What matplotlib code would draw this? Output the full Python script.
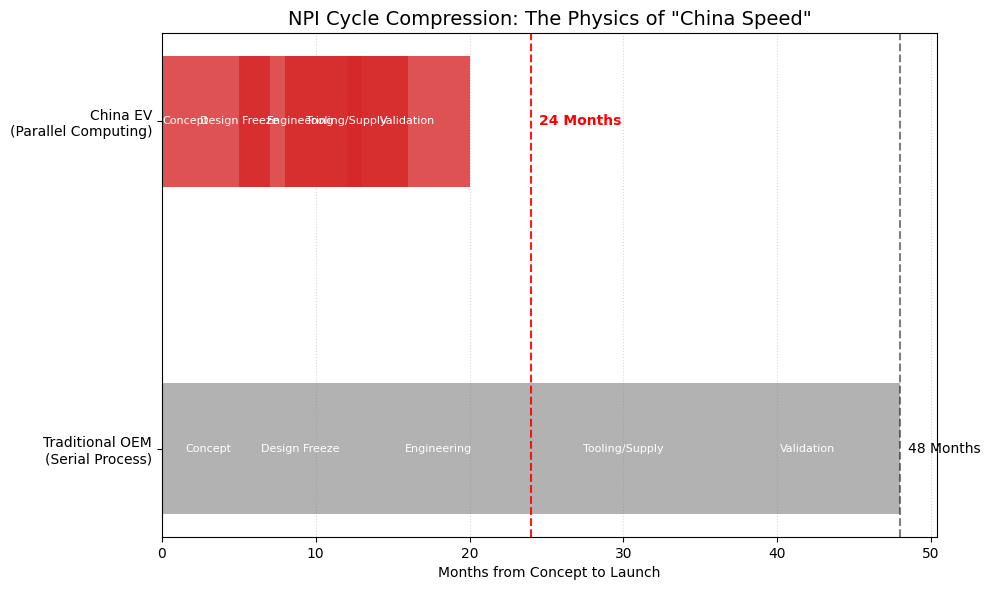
import matplotlib
matplotlib.use("Agg")
import matplotlib.pyplot as plt

PHASES = ["Concept", "Design Freeze", "Engineering", "Tooling/Supply", "Validation"]
# (start, duration) in months
TRAD_START = [0, 6, 12, 24, 36]
TRAD_DUR = [6, 6, 12, 12, 12]
CHINA_START = [0, 3, 5, 8, 12]
CHINA_DUR = [3, 4, 8, 8, 8]
ROWS = ["Traditional OEM\n(Serial Process)", "China EV\n(Parallel Computing)"]
TRAD_TOTAL = 48
CHINA_MARK = 24

fig, ax = plt.subplots(figsize=(9.9, 5.9), dpi=100)

for s, d, name in zip(TRAD_START, TRAD_DUR, PHASES):
    ax.barh(0, d, left=s, height=0.4, color="gray", alpha=0.6)
    ax.text(s + d / 2, 0, name, ha="center", va="center", color="white", fontsize=8)

for s, d, name in zip(CHINA_START, CHINA_DUR, PHASES):
    ax.barh(1, d, left=s, height=0.4, color="#d62728", alpha=0.8)
    ax.text(s + d / 2, 1, name, ha="center", va="center", color="white", fontsize=8)

ax.axvline(CHINA_MARK, color="red", ls="--", lw=1.5, alpha=0.9)
ax.axvline(TRAD_TOTAL, color="black", ls="--", lw=1.5, alpha=0.5)
ax.text(CHINA_MARK + 0.5, 1, f"{CHINA_MARK} Months", color="red", fontweight="bold", va="center", fontsize=10)
ax.text(TRAD_TOTAL + 0.5, 0, f"{TRAD_TOTAL} Months", color="black", va="center", fontsize=10)

ax.set_yticks([0, 1])
ax.set_yticklabels(ROWS)
ax.set_xlim(0, 50.4)
ax.set_xlabel("Months from Concept to Launch")
ax.set_title('NPI Cycle Compression: The Physics of "China Speed"', fontsize=14)
ax.grid(axis="x", ls=":", alpha=0.5)
ax.set_axisbelow(True)

fig.subplots_adjust(left=0.1636, right=0.9465, top=0.944, bottom=0.09)
fig.savefig("out.png")
